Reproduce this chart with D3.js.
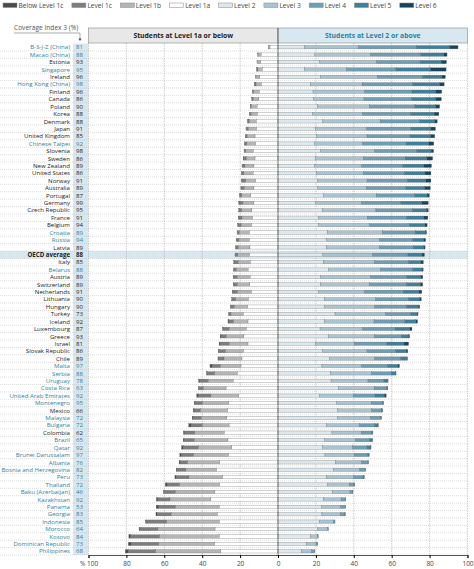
<!DOCTYPE html><html><head><meta charset="utf-8"><script src="https://cdn.jsdelivr.net/npm/d3@7"></script>
<style>body{margin:0;background:#fff}text{font-family:"Open Sans",sans-serif}</style></head><body><svg id="c" width="474" height="569"></svg>
<script>
const countries=["B-S-J-Z (China)","Macao (China)","Estonia","Singapore","Ireland","Hong Kong (China)","Finland","Canada","Poland","Korea","Denmark","Japan","United Kingdom","Chinese Taipei","Slovenia","Sweden","New Zealand","United States","Norway","Australia","Portugal","Germany","Czech Republic","France","Belgium","Croatia","Russia","Latvia","OECD average","Italy","Belarus","Austria","Switzerland","Netherlands","Lithuania","Hungary","Turkey","Iceland","Luxembourg","Greece","Israel","Slovak Republic","Chile","Malta","Serbia","Uruguay","Costa Rica","United Arab Emirates","Montenegro","Mexico","Malaysia","Bulgaria","Colombia","Brazil","Qatar","Brunei Darussalam","Albania","Bosnia and Herzegovina","Peru","Thailand","Baku (Azerbaijan)","Kazakhstan","Panama","Georgia","Indonesia","Morocco","Kosovo","Dominican Republic","Philippines"];
const coverage=[81,88,93,95,96,98,96,86,90,88,88,91,85,92,98,86,89,86,91,89,87,99,95,91,94,89,94,89,88,85,88,89,89,91,90,90,73,92,87,93,81,86,89,97,88,78,63,92,95,66,72,72,62,65,92,97,76,82,73,72,46,92,53,83,85,64,84,73,68];
const partners=["B-S-J-Z (China)","Macao (China)","Singapore","Hong Kong (China)","Chinese Taipei","Croatia","Russia","Belarus","Malta","Serbia","Uruguay","Costa Rica","United Arab Emirates","Montenegro","Malaysia","Bulgaria","Brazil","Qatar","Brunei Darussalam","Albania","Bosnia and Herzegovina","Peru","Thailand","Baku (Azerbaijan)","Kazakhstan","Panama","Georgia","Indonesia","Morocco","Kosovo","Dominican Republic","Philippines"];
const levels=["Below Level 1c","Level 1c","Level 1b","Level 1a","Level 2","Level 3","Level 4","Level 5","Level 6"];
const colors=["#4a4a4a","#7d7d7d","#b5b5b5","#ffffff","#dce8ee","#a9c3d1","#6f9db4","#3e7f9c","#17435b"];
const below=[[0,0.1,0.7,4.2],[0,0.3,1.6,8.8],[0,0.2,1.8,9.1],[0.1,0.5,2.3,8.3],[0,0.2,2.0,9.6],[0.2,0.6,2.8,8.8],[0.1,0.6,3.0,9.8],[0.1,0.6,3.0,10.1],[0.1,0.5,3.1,11.0],[0.2,0.8,3.3,10.8],[0.1,0.8,3.7,11.4],[0.2,1.1,4.3,11.3],[0.1,0.9,4.2,12.1],[0.2,1.2,4.6,11.8],[0.1,0.8,4.0,13.0],[0.4,1.4,4.5,12.1],[0.3,1.3,4.7,12.7],[0.2,1.1,4.9,13.1],[0.5,1.8,5.2,11.8],[0.4,1.5,5.0,12.7],[0.1,1.0,4.7,14.4],[0.5,1.7,5.8,12.7],[0.2,1.3,5.4,13.8],[0.3,1.6,5.6,13.4],[0.3,1.5,5.6,13.9],[0.1,1.1,5.3,15.1],[0.2,1.3,5.5,15.1],[0.1,1.4,6.1,14.8],[0.1,1.4,6.2,15.0],[0.4,1.9,6.4,14.6],[0.1,1.3,6.3,15.7],[0.3,1.8,6.9,14.6],[0.3,1.8,6.6,14.9],[0.5,2.3,7.3,14.0],[0.3,1.8,6.7,15.6],[0.2,2.0,7.0,16.0],[0.1,1.2,6.5,18.3],[0.5,2.5,7.6,15.8],[0.5,3.1,9.0,16.7],[0.4,2.8,9.3,18.0],[0.8,4.6,9.9,15.8],[0.6,3.3,9.4,18.2],[0.4,2.8,9.5,19.0],[1.2,4.4,10.8,19.5],[0.5,3.8,12.0,21.4],[0.6,4.5,13.2,23.6],[0.2,2.4,12.0,27.4],[1.0,6.5,14.7,20.7],[0.6,3.8,13.8,26.0],[0.4,3.4,14.3,26.6],[0.6,4.2,13.5,27.0],[1.2,5.9,14.2,25.8],[0.7,5.3,15.6,28.3],[0.4,5.5,17.7,26.4],[0.9,8.0,17.6,24.4],[1.0,6.3,18.4,26.1],[0.5,4.0,16.9,30.8],[0.6,4.5,16.2,32.4],[0.6,6.8,17.8,29.2],[1.0,6.6,21.1,30.8],[0.4,5.9,20.8,33.3],[0.8,6.4,21.5,35.5],[1.4,8.8,23.2,30.9],[0.7,7.3,24.4,32.0],[0.6,10.6,27.8,30.9],[0.7,9.2,30.2,33.2],[1.0,15.2,31.5,31.0],[1.5,14.6,29.5,33.4],[1.7,14.4,34.3,30.2]];
const above=[[14,28.5,30.5,17.5,4.5],[19.5,29.5,26.4,12,1.8],[22.0,29.9,23.1,11.1,2.8],[13.9,22.4,26.0,18.1,8.3],[22.3,30.1,23.8,10.3,1.8],[17.0,27.4,26.6,14.2,2.5],[18.5,27.3,24.9,12.4,3.3],[18.9,26.5,25.1,12.8,2.9],[20.8,27.6,23.9,10.8,2.2],[18.1,26.6,25.2,12.5,2.5],[23.7,30.2,21.0,7.8,1.3],[19.6,27.3,23.3,10.3,2.6],[20.4,26.6,22.7,10.7,2.3],[19.2,25.6,22.8,11.8,2.8],[22.5,28.5,22.0,7.8,1.3],[19.6,25.5,22.0,11.4,3.1],[19.3,24.8,21.8,11.0,4.1],[20.5,24.5,21.6,11.0,3.1],[21.0,26.0,21.2,9.8,2.7],[21.0,25.6,20.7,10.0,3.1],[24.0,27.8,20.3,6.6,1.1],[19.9,24.1,20.8,11.0,3.5],[23.3,28.4,19.4,7.2,1.0],[21.4,25.7,20.6,9.3,2.1],[21.4,26.9,21.3,7.9,1.2],[26.3,28.7,17.4,5.4,0.6],[25.7,27.8,17.7,5.7,1.0],[25.6,28.0,17.8,5.4,0.8],[23.7,26.3,18.6,7.4,1.3],[24.1,26.8,18.0,6.5,1.3],[26.6,27.4,16.9,5.1,0.6],[22.6,26.2,19.1,7.3,1.2],[22.5,25.9,19.5,7.2,1.3],[21.5,24.0,20.6,8.1,1.7],[24.5,27.0,17.5,5.8,0.8],[24.5,26.5,17.0,6.0,0.8],[30.1,26.7,13.4,3.3,0.4],[24.6,26.1,16.2,5.8,0.9],[22.2,22.6,17.0,7.6,1.3],[26.6,24.3,14.2,3.9,0.5],[19.8,20.4,17.0,9.3,2.4],[23.4,23.6,15.1,5.5,0.9],[27.0,24.0,13.6,3.5,0.2],[23.2,21.0,13.6,5.3,1.0],[27.8,21.5,10.5,2.3,0.2],[28.0,19.5,8.4,2.0,0.2],[32.0,18.8,6.3,0.9,0],[21.9,17.9,11.4,4.9,1.0],[30.8,18.4,5.8,0.8,0],[31.6,17.8,5.1,0.8,0],[31.5,17.4,5.2,0.6,0],[25.7,17.3,8.1,1.7,0.1],[28.5,15.4,5.4,0.8,0],[24.5,16.3,7.4,1.7,0.1],[23.5,15.8,7.7,1.9,0.2],[24.8,15.4,7.0,1.0,0],[30.5,13.7,3.3,0.3,0],[29.2,14.0,2.9,0.2,0],[25.6,14.3,5.0,0.7,0],[26.2,11.4,2.5,0.4,0],[28.6,9.4,1.5,0.1,0],[24.2,9.1,2.2,0.3,0],[23.0,10.1,2.4,0.2,0],[23.2,9.7,2.4,0.3,0],[21.8,7.3,1.0,0,0],[20.8,5.5,0.4,0,0],[17.3,3.7,0.3,0,0],[15.0,5.1,0.8,0.1,0],[12.6,5.1,1.4,0.3,0]];
const ticks=[-100,-80,-60,-40,-20,0,20,40,60,80,100];

const svg=d3.select("#c");
const x=d3.scaleLinear().domain([-100,100]).range([88.5,467.5]);
const y=d3.scaleBand().domain(countries).range([43.5,555]).paddingInner(0);
const teal="#2f7f9e";
let lx=3;
levels.forEach((l,i)=>{
  svg.append("rect").attr("x",lx).attr("y",3).attr("width",14).attr("height",4.5).attr("fill",colors[i]).attr("stroke","#888").attr("stroke-width",0.5);
  const t=svg.append("text").attr("x",lx+15.5).attr("y",8).attr("font-size",6.6).attr("fill","#444").text(l);
  lx+=15.5+t.node().getComputedTextLength()+8.5;
});
svg.append("text").attr("x",14).attr("y",30).attr("font-size",6.6).attr("fill","#555").text("Coverage Index 3 (%)");
svg.append("path").attr("d","M14,33H80V40").attr("fill","none").attr("stroke","#777").attr("stroke-width",0.6);
svg.append("path").attr("d","M78.5,38.5L80,41L81.5,38.5Z").attr("fill","#444");
svg.append("rect").attr("x",x(-100)).attr("y",28).attr("width",x(0)-x(-100)).attr("height",15).attr("fill","#e8e8e8").attr("stroke","#888").attr("stroke-width",0.6);
svg.append("rect").attr("x",x(0)).attr("y",28).attr("width",x(100)-x(0)).attr("height",15).attr("fill","#d8e8f0").attr("stroke","#888").attr("stroke-width",0.6);
svg.append("text").attr("x",(x(-100)+x(0))/2).attr("y",38.3).attr("text-anchor","middle").attr("font-size",6.8).attr("font-weight","bold").attr("fill","#222").text("Students at Level 1a or below");
svg.append("text").attr("x",(x(0)+x(100))/2).attr("y",38.3).attr("text-anchor","middle").attr("font-size",6.8).attr("font-weight","bold").attr("fill",teal).text("Students at Level 2 or above");
svg.append("rect").attr("x",73).attr("y",y.range()[0]).attr("width",15).attr("height",y.range()[1]-y.range()[0]).attr("fill","#d8e8f0");
svg.append("rect").attr("x",0).attr("y",y("OECD average")).attr("width",x(100)).attr("height",y.bandwidth()).attr("fill","#d8e8f0");
svg.selectAll(".sep").data(countries).join("line").attr("x1",0).attr("x2",x(100)).attr("y1",d=>y(d)+y.bandwidth()).attr("y2",d=>y(d)+y.bandwidth()).attr("stroke","#aaa").attr("stroke-width",0.4).attr("stroke-dasharray","1,1");
svg.selectAll(".vg").data(ticks.filter(t=>t!==0)).join("line").attr("x1",d=>x(d)).attr("x2",d=>x(d)).attr("y1",43).attr("y2",y.range()[1]).attr("stroke","#999").attr("stroke-width",0.5).attr("stroke-dasharray","1.5,1");
const bh=3.4;
countries.forEach((c,i)=>{
  const yy=y(c)+(y.bandwidth()-bh)/2;
  let cum=-d3.sum(below[i]);
  below[i].forEach((v,j)=>{
    if(v>0) svg.append("rect").attr("x",x(cum)).attr("y",yy).attr("width",x(cum+v)-x(cum)).attr("height",bh).attr("fill",colors[j]).attr("stroke","#666").attr("stroke-width",0.3);
    cum+=v;
  });
  cum=0;
  above[i].forEach((v,j)=>{
    if(v>0) svg.append("rect").attr("x",x(cum)).attr("y",yy).attr("width",x(cum+v)-x(cum)).attr("height",bh).attr("fill",colors[j+4]).attr("stroke","#666").attr("stroke-width",0.3);
    cum+=v;
  });
  const isP=partners.includes(c), isO=c==="OECD average";
  svg.append("text").attr("x",70).attr("y",y(c)+y.bandwidth()/2+2.2).attr("text-anchor","end").attr("font-size",6.1).attr("font-weight",isO?"bold":null).attr("fill",isP?teal:"#222").text(c);
  svg.append("text").attr("x",76).attr("y",y(c)+y.bandwidth()/2+2.2).attr("font-size",6.1).attr("font-weight",isO?"bold":null).attr("fill",isP?teal:"#222").text(coverage[i]);
});
svg.append("line").attr("x1",x(0)).attr("x2",x(0)).attr("y1",28).attr("y2",y.range()[1]).attr("stroke","#555").attr("stroke-width",0.8);
const ax=svg.append("g").attr("transform",`translate(0,${y.range()[1]})`).call(d3.axisBottom(x).tickValues(ticks).tickSize(3).tickFormat(d=>Math.abs(d)));
ax.select(".domain").attr("stroke","#555");
ax.selectAll("text").attr("font-size",6.5).attr("fill","#444").attr("font-family","Open Sans");
ax.selectAll(".tick").filter(d=>d===-100).select("text").text("% 100");
</script></body></html>
